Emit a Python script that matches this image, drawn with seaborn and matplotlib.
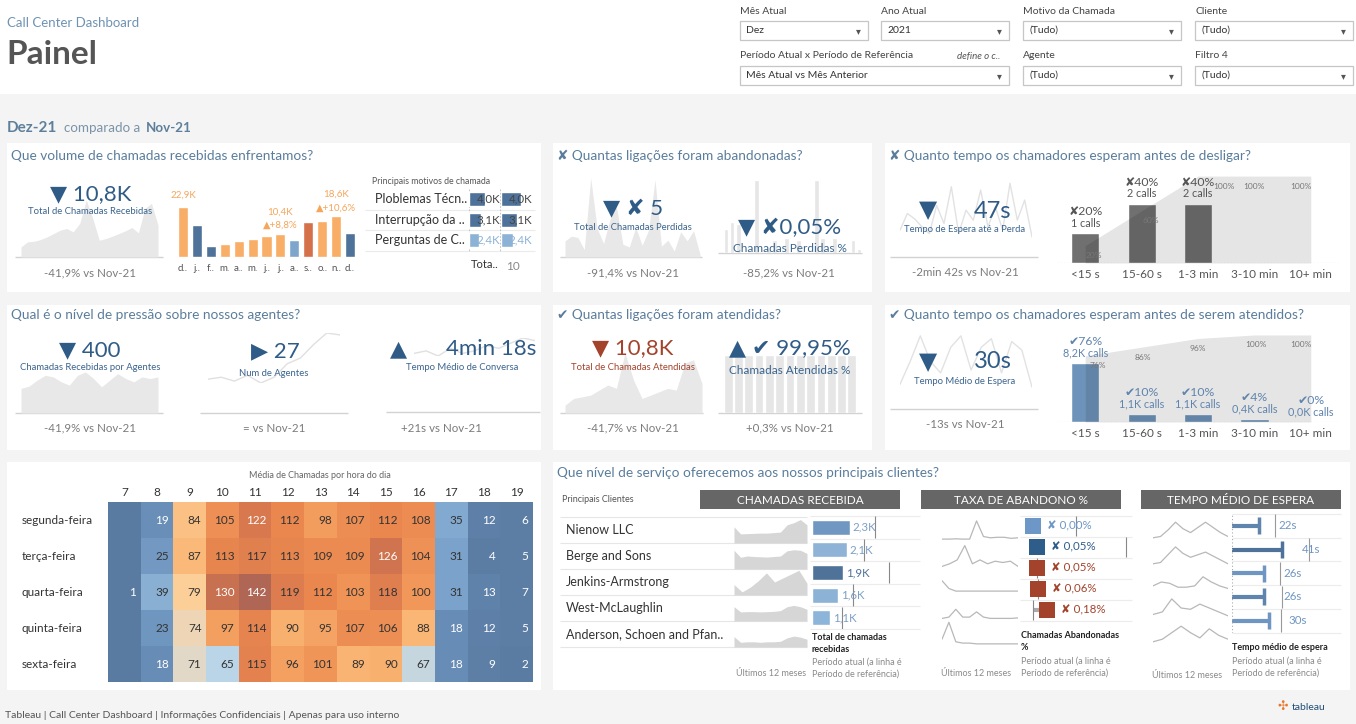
import numpy as np
import pandas as pd
import matplotlib
matplotlib.use('Agg')
import matplotlib.pyplot as plt
import seaborn as sns
from matplotlib.patches import Rectangle
from matplotlib.colors import LinearSegmentedColormap

sns.set_theme(style='white')
plt.rcParams['font.family'] = ['Lato', 'DejaVu Sans']

# ---------------- DATA ----------------
month_labels = ['d..', 'j..', 'f..', 'm.', 'a..', 'm.', 'j..', 'j..', 'a..', 's..', 'o..', 'n..', 'd..']
month_calls_k = [22.9, 14.5, 4.9, 5.8, 7.3, 8.1, 9.6, 10.4, 7.6, 16.0, 16.5, 18.6, 10.8]
month_colors = ['#f8ae66', '#4e7299', '#4e7299', '#f8ae66', '#f8ae66', '#f8ae66', '#f8ae66',
                '#f8ae66', '#7ea6cd', '#d4714b', '#f8ae66', '#f8ae66', '#4e7299']

reason_labels = ['Ploblemas Técn..', 'Interrupção da ..', 'Perguntas de C..']
reason_calls_k = [4.0, 3.1, 2.4]
reason_text = ['4,0K', '3,1K', '2,4K']
reason_colors = ['#4e7299', '#4e7299', '#8cb2d6']

calls_spark = [30, 45, 47, 52, 60, 70, 80, 85, 75, 100, 170, 115, 50, 55, 62, 70, 78, 88, 72, 145, 160, 95]
lost_spark = [48, 62, 58, 22, 235, 85, 40, 112, 150, 38, 30, 88, 35, 80, 230, 32, 50, 18, 75, 48, 78, 8]
lost_pct_spark = [0.33, 0.43, 0.40, 0.02, 0.0, 1.0, 0.0, 0.05, 0.18, 0.0, 0.21, 0.0,
                  0.18, 0.0, 0.02, 1.0, 0.20, 0.0, 0.20, 0.0, 0.0, 0.18, 0.05]
wait_lost_spark = [0.25, 0.5, 0.42, 0.3, 0.2, 0.62, 0.35, 0.9, 0.2, 0.55, 0.4, 0.85, 0.3, 0.6, 0.25, 0.95, 0.4, 0.7, 0.15]
agent_calls_spark = [75, 82, 100, 115, 110, 95, 85, 115, 125, 105, 80, 100, 120, 105, 95, 110, 105, 110]
agents_spark = [20, 20.5, 19.5, 21, 19, 20.5, 24, 25.5, 29, 32, 31.5]
talk_spark = [4.0, 4.05, 3.95, 4.1, 4.0, 4.05, 4.15, 4.1, 4.2, 4.3, 4.25]
answered_spark = [23, 43, 48, 53, 68, 83, 73, 178, 98, 43, 53, 63, 73, 68, 148, 158, 88]
answered_pct_spark = [99.6, 99.5, 99.5, 99.6, 99.4, 99.5, 99.7, 99.5, 99.6, 99.5, 99.3, 99.5, 99.95]
wait_ans_spark = [0.1, 0.5, 0.95, 0.5, 0.3, 0.75, 0.95, 0.35, 0.75, 0.9, 0.3, 0.85, 0.7, 0.05]

wait_buckets = ['<15 s', '15-60 s', '1-3 min', '3-10 min', '10+ min']
lost_calls_bucket = [1, 2, 2, 0, 0]
lost_share_text = ['✘20%', '✘40%', '✘40%', '', '']
lost_calls_text = ['1 calls', '2 calls', '2 calls', '', '']
lost_cum_pct = [20, 60, 100, 100, 100]
ans_calls_bucket_k = [8.2, 1.1, 1.1, 0.4, 0.0]
ans_share_text = ['✔76%', '✔10%', '✔10%', '✔4%', '✔0%']
ans_calls_text = ['8,2K calls', '1,1K calls', '1,1K calls', '0,4K calls', '0,0K calls']
ans_cum_pct = [76, 86, 96, 100, 100]

hours = [7, 8, 9, 10, 11, 12, 13, 14, 15, 16, 17, 18, 19]
weekdays = ['segunda-feira', 'terça-feira', 'quarta-feira', 'quinta-feira', 'sexta-feira']
heat_seg = [0, 19, 84, 105, 122, 112, 98, 107, 112, 108, 35, 12, 6]
heat_ter = [0, 25, 87, 113, 117, 113, 109, 109, 126, 104, 31, 4, 5]
heat_qua = [1, 39, 79, 130, 142, 119, 112, 103, 118, 100, 31, 13, 7]
heat_qui = [0, 23, 74, 97, 114, 90, 95, 107, 106, 88, 18, 12, 5]
heat_sex = [0, 18, 71, 65, 115, 96, 101, 89, 90, 67, 18, 9, 2]

clients = ['Nienow LLC', 'Berge and Sons', 'Jenkins-Armstrong', 'West-McLaughlin', 'Anderson, Schoen and Pfan..']
client_calls_k = [2.3, 2.1, 1.9, 1.6, 1.1]
client_calls_ref_k = [3.8, 3.15, 4.67, 2.5, 1.8]
client_calls_text = ['2,3K', '2,1K', '1,9K', '1,6K', '1,1K']
client_calls_colors = ['#7097c2', '#8fb3d6', '#4f7299', '#8cb2d6', '#8db4d9']
client_calls_txtcol = ['#7c9fc4', '#7c9fc4', '#4f7299', '#7c9fc4', '#7c9fc4']
client_aband_pct = [0.00, 0.05, 0.05, 0.06, 0.18]
client_aband_ref = [0.54, 1.16, 0.05, 0.06, 0.0]
client_aband_text = ['✘ 0,00%', '✘ 0,05%', '✘ 0,05%', '✘ 0,06%', '✘ 0,18%']
client_aband_colors = ['#6d97c7', '#2f5d8a', '#a3432b', '#a3432b', '#a3432b']
client_wait_s = [22, 41, 26, 26, 30]
client_wait_ref = [35, 63, 39, 41, 40]
client_wait_text = ['22s', '41s', '26s', '26s', '30s']
client_wait_colors = ['#5f84ad', '#4e7299', '#6f96c2', '#5f84ad', '#6f96c2']
client_calls_spark = [
    [0.62, 0.35, 0.36, 0.37, 0.38, 0.38, 0.40, 0.42, 0.70, 0.78, 0.90, 0.70],
    [0.72, 0.45, 0.50, 0.48, 0.47, 0.46, 0.48, 0.50, 0.70, 0.74, 0.72, 0.60],
    [0.40, 0.12, 0.30, 0.55, 0.85, 0.50, 0.65, 0.80, 0.95, 0.45],
    [0.55, 0.35, 0.36, 0.36, 0.35, 0.36, 0.37, 0.40, 0.55, 0.60, 0.55, 0.45],
    [0.40, 0.18, 0.20, 0.20, 0.18, 0.20, 0.20, 0.22, 0.35, 0.42, 0.38, 0.30]]
client_aband_spark = [
    [0.15, 0.15, 0.16, 0.15, 0.15, 0.85, 0.25, 0.2, 0.22, 0.22, 0.18, 0.2],
    [0.10, 0.20, 0.35, 0.90, 0.20, 0.35, 0.20, 0.30, 0.25, 0.30, 0.10],
    [0.55, 0.25, 0.15, 0.15, 0.15, 0.15, 0.15, 0.15, 0.15, 0.15, 0.15, 0.15],
    [0.10, 0.15, 0.45, 0.15, 0.15, 0.35, 0.15, 0.10, 0.10, 0.10, 0.10, 0.12],
    [0.30, 0.95, 0.20, 0.15, 0.15, 0.12, 0.12, 0.12, 0.12, 0.12, 0.12, 0.12]]
client_wait_spark = [
    [0.20, 0.25, 0.50, 0.80, 0.55, 0.40, 0.60, 0.80, 0.60, 0.40, 0.25],
    [0.20, 0.25, 0.55, 0.85, 0.60, 0.45, 0.55, 0.65, 0.50, 0.35, 0.20],
    [0.35, 0.50, 0.45, 0.30, 0.30, 0.35, 0.70, 0.50, 0.35, 0.25],
    [0.25, 0.35, 0.85, 0.50, 0.45, 0.65, 0.50, 0.35, 0.20],
    [0.20, 0.30, 0.55, 0.80, 0.55, 0.35, 0.70, 0.45, 0.30]]

filter_labels = ['Mês Atual', 'Ano Atual', 'Motivo da Chamada', 'Cliente',
                 'Período Atual x Período de Referência', 'Agente', 'Filtro 4']
filter_values = ['Dez', '2021', '(Tudo)', '(Tudo)', 'Mês Atual vs Mês Anterior', '(Tudo)', '(Tudo)']

# ---------------- STYLE ----------------
W, H = 1356, 724
TITLE = '#5a7d9c'
KPI = '#2f5b87'
RUST = '#a3432b'
GRAYTXT = '#7b7b7b'
DARK = '#444444'
SPARK = '#e8e8e8'

fig = plt.figure(figsize=(W / 100, H / 100), dpi=100)
bg = fig.add_axes([0, 0, 1, 1])
bg.set_xlim(0, W)
bg.set_ylim(H, 0)
bg.axis('off')
bg.set_zorder(-5)
fg = fig.add_axes([0, 0, 1, 1])
fg.set_xlim(0, W)
fg.set_ylim(H, 0)
fg.axis('off')
fg.set_facecolor('none')
fg.set_zorder(20)


def ax_at(x0, y0, x1, y1):
    a = fig.add_axes([x0 / W, 1 - y1 / H, (x1 - x0) / W, (y1 - y0) / H])
    a.set_facecolor('none')
    return a


def T(x, y, s, size=8, color=DARK, ha='left', va='center', weight='normal', **kw):
    return fg.text(x, y, s, fontsize=size, color=color, ha=ha, va=va, fontweight=weight, **kw)


def hline(x0, x1, y, color='#d2d2d2', lw=1.0, ls='-'):
    bg.plot([x0, x1], [y, y], color=color, lw=lw, ls=ls, solid_capstyle='butt')


def spark_area(box, vals, color=SPARK):
    a = ax_at(*box)
    idx = np.arange(len(vals))
    a.fill_between(idx, vals, color=color, lw=0)
    a.set_xlim(0, len(vals) - 1)
    a.set_ylim(0, max(vals))
    a.axis('off')
    return a


def spark_line(box, vals, color='#dddddd', lw=1.0, ylim=None):
    a = ax_at(*box)
    sns.lineplot(x=np.arange(len(vals)), y=vals, ax=a, color=color, lw=lw)
    a.set_xlim(0, len(vals) - 1)
    a.set_ylim(ylim if ylim else (min(vals), max(vals)))
    a.axis('off')
    return a


def spark_bars(box, vals, color, width=0.8, ylim=None):
    a = ax_at(*box)
    sns.barplot(x=np.arange(len(vals)), y=vals, color=color, width=width, saturation=1, ax=a)
    a.set_ylim(ylim if ylim else (0, max(vals)))
    a.axis('off')
    return a


# ---------------- BACKGROUND ----------------
bg.add_patch(Rectangle((0, 0), W, H, fc='#f4f4f4', ec='none', zorder=0))
bg.add_patch(Rectangle((0, 0), W, 94, fc='white', ec='none', zorder=0))
panels = [(7, 143, 541, 292), (553, 143, 872, 292), (885, 143, 1350, 292),
          (7, 305, 541, 450), (553, 305, 872, 450), (885, 305, 1350, 450),
          (7, 462, 541, 690), (553, 462, 1350, 690)]
for x0, y0, x1, y1 in panels:
    bg.add_patch(Rectangle((x0, y0), x1 - x0, y1 - y0, fc='white', ec='none', zorder=0.5))

# ---------------- HEADER ----------------
T(7, 23, 'Call Center Dashboard', 9.5, '#6f93b3')
T(6, 55, 'Painel', 24, '#555555', weight='bold')
filter_boxes = [(740, 868, 0), (881, 1009, 0), (1023, 1181, 0), (1195, 1353, 0),
                (740, 1009, 1), (1023, 1181, 1), (1195, 1353, 1)]
for (x0, x1, r), lab, val in zip(filter_boxes, filter_labels, filter_values):
    ly = 11 if r == 0 else 56
    by = 21 if r == 0 else 66
    T(x0, ly, lab, 7.5, '#444444')
    bg.add_patch(Rectangle((x0, by), x1 - x0, 19, fc='white', ec='#c6c6c6', lw=0.9, zorder=1))
    T(x0 + 6, by + 9.5, val, 7.5, '#333333')
    T(x1 - 10, by + 10, '▾', 7, '#555555', ha='center', family='DejaVu Sans')
T(957, 56, 'define o c..', 7, '#555555', style='italic')

T(7, 128, 'Dez-21', 11, '#5e7f9c', weight='bold')
T(64, 128, 'comparado a', 9.6, '#7a93a8')
T(146, 128, 'Nov-21', 9.6, '#5e7f9c', weight='bold')

# ---------------- PANEL TITLES ----------------
T(11, 156, 'Que volume de chamadas recebidas enfrentamos?', 9.8, TITLE)
T(557, 156, '✘ Quantas ligações foram abandonadas?', 9.8, TITLE)
T(889, 156, '✘ Quanto tempo os chamadores esperam antes de desligar?', 9.8, TITLE)
T(11, 315, 'Qual é o nível de pressão sobre nossos agentes?', 9.8, TITLE)
T(557, 315, '✔ Quantas ligações foram atendidas?', 9.8, TITLE)
T(889, 315, '✔ Quanto tempo os chamadores esperam antes de serem atendidos?', 9.8, TITLE)
T(557, 473, 'Que nível de serviço oferecemos aos nossos principais clientes?', 9.8, TITLE)

# ---------------- PANEL 1 ----------------
spark_area((21, 200, 158, 257), calls_spark)
hline(15, 163, 257)
T(91, 194, '▼ 10,8K', 16, KPI, ha='center')
T(90, 212, 'Total de Chamadas Recebidas', 6.8, '#3b648e', ha='center')
T(90, 273, '-41,9% vs Nov-21', 8.3, GRAYTXT, ha='center')

a = ax_at(176, 185, 357, 257)
dfm = pd.DataFrame({'m': [f'm{i}' for i in range(13)], 'calls': month_calls_k})
sns.barplot(data=dfm, x='m', y='calls', hue='m', palette=dict(zip(dfm['m'], month_colors)),
            legend=False, width=0.72, saturation=1, ax=a)
a.set_ylim(0, 33)
a.set_xlim(-0.5, 12.5)
a.set_xticks(range(13))
a.set_xticklabels(month_labels, fontsize=7, color='#555555')
a.tick_params(axis='x', length=0, pad=5)
a.set_yticks([])
a.set_xlabel('')
a.set_ylabel('')
for s in a.spines.values():
    s.set_visible(False)
a.axhline(0, color='#aaaaaa', lw=0.8, ls=(0, (1, 2)))
a.annotate('22,9K', (0, month_calls_k[0]), xytext=(0, 5), textcoords='offset points',
           ha='center', va='bottom', fontsize=7, color='#f5a65b')
for i, (v1, v2) in [(7, ('10,4K', '▲+8,8%')), (11, ('18,6K', '▲+10,6%'))]:
    a.annotate(v2, (i, month_calls_k[i]), xytext=(0, 3), textcoords='offset points',
               ha='center', va='bottom', fontsize=7, color='#f5a65b')
    a.annotate(v1, (i, month_calls_k[i]), xytext=(0, 13), textcoords='offset points',
               ha='center', va='bottom', fontsize=7, color='#f5a65b')

T(372, 182, 'Principais motivos de chamada', 6.3, '#555555')
for i, lab in enumerate(reason_labels):
    T(375, 199 + i * 20.5, lab, 9, '#333333')
for yy in [209.5, 230, 250.5]:
    hline(365, 535, yy, '#ebebeb', 0.8)
for xx in [469, 500]:
    bg.plot([xx, xx], [189, 251], color='#bbbbbb', lw=0.6, ls=(0, (2, 2)))
for (x0, x1, xmax) in [(469, 500, 7.75), (501, 532, 6.2)]:
    a = ax_at(x0, 189, x1, 250.5)
    sns.barplot(x=reason_calls_k, y=reason_labels, orient='h', hue=reason_labels,
                palette=dict(zip(reason_labels, reason_colors)), legend=False,
                width=0.7, saturation=1, ax=a)
    a.set_xlim(0, xmax)
    a.set_ylim(2.5, -0.5)
    a.axis('off')
    for i, txt in enumerate(reason_text):
        a.text(xmax, i, txt, ha='right', va='center', fontsize=8.3,
               color='#8cb2d6' if i == 2 else '#444444')
T(485, 265, 'Tota..', 8, '#333333', ha='center')
T(513, 266, '10', 8.5, '#888888', ha='center')

# ---------------- PANEL 2 ----------------
spark_area((565, 178, 700, 257), lost_spark)
hline(560, 702, 257)
T(633, 208, '▼ ✘ 5', 16, KPI, ha='center')
T(633, 228, 'Total de Chamadas Perdidas', 6.8, '#3b648e', ha='center')
T(633, 273, '-91,4% vs Nov-21', 8.3, GRAYTXT, ha='center')
spark_bars((723, 180, 862, 253), lost_pct_spark, '#e6e6e6', width=0.8)
hline(718, 862, 253)
T(790, 228, '▼ ✘0,05%', 16, KPI, ha='center')
T(790, 249, 'Chamadas Perdidas %', 8.5, '#3b648e', ha='center')
T(789, 273, '-85,2% vs Nov-21', 8.3, GRAYTXT, ha='center')

# ---------------- PANEL 3 ----------------
spark_line((900, 180, 1032, 247), wait_lost_spark, '#e2e2e2', 1.0, (0, 1))
hline(890, 1038, 257)
T(928, 211, '▼', 17, KPI, ha='center')
T(993, 211, '47s', 17, KPI, ha='center')
T(965, 230, 'Tempo de Espera até a Perda', 6.8, '#3b648e', ha='center')
T(965, 273, '-2min 42s vs Nov-21', 8.3, GRAYTXT, ha='center')


def bucket_chart(box, calls, calls_max, cum, cum_max, bar_color, share_txt, calls_txt,
                 txt_color, cum_dx, cum_dy):
    a = ax_at(*box)
    sns.barplot(x=wait_buckets, y=calls, color=bar_color, width=0.5, saturation=1, ax=a)
    a.set_ylim(0, calls_max)
    a.set_xlim(-0.5, 4.5)
    a.set_yticks([])
    a.set_xlabel('')
    a.set_ylabel('')
    a.tick_params(axis='x', length=0, pad=4, labelsize=8.5, labelcolor='#555555')
    for s in a.spines.values():
        s.set_visible(False)
    a.axhline(0, color='#999999', lw=0.8, ls=(0, (1, 2)))
    a2 = a.twinx()
    a2.fill_between(range(5), cum, color='black', alpha=0.1, lw=0)
    a2.set_ylim(0, cum_max)
    a2.set_xlim(-0.5, 4.5)
    a2.axis('off')
    for i, v in enumerate(cum):
        a2.annotate(f'{v}%', (i, v), xytext=(cum_dx[i], cum_dy[i]), textcoords='offset points',
                    ha='center', va='center', fontsize=6, color='#777777')
    for i, (st, ct) in enumerate(zip(share_txt, calls_txt)):
        if st:
            a2.annotate(st, (i, calls[i] / calls_max * cum_max), xytext=(0, 15.5),
                        textcoords='offset points', ha='center', va='center', fontsize=8.8,
                        color=txt_color)
            a2.annotate(ct, (i, calls[i] / calls_max * cum_max), xytext=(0, 7.2),
                        textcoords='offset points', ha='center', va='center', fontsize=7.8,
                        color=txt_color)
    return a


bucket_chart((1057, 170, 1339, 263), lost_calls_bucket, 3.15, lost_cum_pct, 107, '#707070',
             lost_share_text, lost_calls_text, '#555555', [6, 6.5, 19, 0, -7],
             [-7.2, -7.2, -7.2, -7.2, -7.2])

# ---------------- PANEL 4 ----------------
spark_area((21, 372, 158, 413), agent_calls_spark)
hline(15, 163, 413)
T(90, 350, '▼ 400', 16, KPI, ha='center')
T(90, 368, 'Chamadas Recebidas por Agentes', 6.8, '#3b648e', ha='center')
T(90, 428, '-41,9% vs Nov-21', 8.3, GRAYTXT, ha='center')
spark_line((208, 333, 340, 383), agents_spark, '#e0e0e0', 1.0)
hline(200, 348, 413)
T(275, 351, '▶ 27', 16, KPI, ha='center')
T(274, 374, 'Num de Agentes', 6.8, '#3b648e', ha='center')
T(274, 428, '= vs Nov-21', 8.3, GRAYTXT, ha='center')
spark_line((414, 338, 535, 356), talk_spark, '#e0e0e0', 1.0)
hline(386, 540, 412)
T(398, 349, '▲', 16, KPI, ha='center')
T(491, 349, '4min 18s', 16, KPI, ha='center')
T(462, 368, 'Tempo Médio de Conversa', 6.8, '#3b648e', ha='center')
T(441, 428, '+21s vs Nov-21', 8.3, GRAYTXT, ha='center')

# ---------------- PANEL 5 ----------------
spark_area((565, 353, 702, 413), answered_spark)
hline(560, 703, 413)
T(633, 348, '▼ 10,8K', 16, RUST, ha='center')
T(633, 368, 'Total de Chamadas Atendidas', 6.8, RUST, ha='center')
T(633, 428, '-41,7% vs Nov-21', 8.3, GRAYTXT, ha='center')
spark_bars((723, 355, 857, 413), answered_pct_spark, '#e6e6e6', width=0.85, ylim=(0, 100))
hline(718, 862, 413)
T(790, 348, '▲ ✔ 99,95%', 16, KPI, ha='center')
T(790, 370, 'Chamadas Atendidas %', 8.5, '#3b648e', ha='center')
T(790, 428, '+0,3% vs Nov-21', 8.3, GRAYTXT, ha='center')

# ---------------- PANEL 6 ----------------
spark_line((900, 333, 1032, 390), wait_ans_spark, '#e2e2e2', 1.0, (0, 1))
hline(890, 1038, 409)
T(928, 363, '▼', 17, KPI, ha='center')
T(993, 362, '30s', 17, KPI, ha='center')
T(965, 381, 'Tempo Médio de Espera', 6.8, '#3b648e', ha='center')
T(965, 425, '-13s vs Nov-21', 8.3, GRAYTXT, ha='center')
bucket_chart((1057, 330, 1339, 422), ans_calls_bucket_k, 12.8, ans_cum_pct, 105.7, '#6e93ba',
             ans_share_text, ans_calls_text, '#5f84ad', [9, 1, 0, 1, -7],
             [-7.2, -7.2, -7.2, -7.2, -7.2])

# ---------------- HEATMAP ----------------
T(320, 475, 'Média de Chamadas por hora do dia', 6.5, '#666666', ha='center')
heat = pd.DataFrame([heat_seg, heat_ter, heat_qua, heat_qui, heat_sex], index=weekdays, columns=hours)
cmap = LinearSegmentedColormap.from_list('ob', [
    (0.0, '#5a7ba1'), (12 / 142, '#5e80a8'), (20 / 142, '#6b91bb'), (35 / 142, '#82a9d0'),
    (65 / 142, '#b9d5e8'), (70 / 142, '#ddd9cf'), (78 / 142, '#fdd29c'), (88 / 142, '#fab674'),
    (100 / 142, '#f19759'), (112 / 142, '#e9874f'), (122 / 142, '#d8784e'), (1.0, '#b06654')])
a = ax_at(108, 502, 533, 682)
sns.heatmap(heat, ax=a, cmap=cmap, vmin=0, vmax=142, cbar=False, linewidths=0)
a.xaxis.tick_top()
a.set_xticklabels([str(h) for h in hours], fontsize=8.5, color='#333333', rotation=0)
a.set_yticklabels(weekdays, fontsize=8.5, color='#333333', rotation=0, ha='left')
a.tick_params(axis='y', length=0, pad=62)
a.tick_params(axis='x', length=0, pad=3)
a.set_xlabel('')
a.set_ylabel('')
for i in range(5):
    for j in range(13):
        v = heat.iloc[i, j]
        if v > 0:
            a.text(j + 0.86, i + 0.52, str(v), ha='right', va='center', fontsize=8.5,
                   color='white' if (v <= 20 or v >= 120) else '#333333')

# ---------------- CLIENTS ----------------
T(562, 499, 'Principais Clientes', 6.5, '#555555')
for (x0, x1, lab) in [(700, 900, 'CHAMADAS RECEBIDA'), (921, 1121, 'TAXA DE ABANDONO %'),
                      (1141, 1341, 'TEMPO MÉDIO DE ESPERA')]:
    bg.add_patch(Rectangle((x0, 490), x1 - x0, 19, fc='#666666', ec='none', zorder=1))
    T((x0 + x1) / 2, 500, lab, 8.5, 'white', ha='center')
for k in range(6):
    hline(560, 807, 517 + 26 * k, '#e6e6e6', 0.8)
for i, name in enumerate(clients):
    T(566, 530 + 26 * i, name, 9, '#333333')
    spark_area((734, 517 + 26 * i, 807, 543 + 26 * i), client_calls_spark[i], '#d6d6d6').set_ylim(0, 1)
    spark_line((942, 517 + 26 * i, 1018, 543 + 26 * i), client_aband_spark[i], '#b8b8b8', 0.9, (0, 1))
    spark_line((1153, 517 + 26 * i, 1228, 543 + 26 * i), client_wait_spark[i], '#b8b8b8', 0.9, (0, 1))

# calls bars
for k in range(6):
    hline(810, 920, 516 + 22.6 * k, '#ececec', 0.8)
a = ax_at(812, 516, 920, 629)
sns.barplot(x=client_calls_k, y=clients, orient='h', hue=clients,
            palette=dict(zip(clients, client_calls_colors)), legend=False, width=0.66, saturation=1, ax=a)
a.set_xlim(0, 6.55)
a.set_ylim(4.5, -0.5)
a.vlines(client_calls_ref_k, [i - 0.48 for i in range(5)], [i + 0.48 for i in range(5)],
         color='#888888', lw=0.8)
for i, (v, t, c) in enumerate(zip(client_calls_k, client_calls_text, client_calls_txtcol)):
    a.annotate(t, (v, i), xytext=(2, 0), textcoords='offset points', ha='left', va='center',
               fontsize=8.3, color=c)
a.axis('off')
T(812, 638, 'Total de chamadas', 6.5, '#222222', weight='bold')
T(812, 649, 'recebidas', 6.5, '#222222', weight='bold')
T(812, 662, 'Período atual (a linha é', 6.5, '#8a8a8a')
T(812, 674, 'Período de referência)', 6.5, '#8a8a8a')
T(736, 674, 'Últimos 12 meses', 6.5, '#8a8a8a')

# abandon squares
for k in range(6):
    hline(1020, 1132, 515.5 + 21 * k, '#ececec', 0.8)
a = ax_at(1020, 515.5, 1135, 620.5)
ypos = np.arange(5)
a.hlines(ypos, 0, client_aband_pct, color='#aaaaaa', lw=3)
a.vlines(client_aband_ref, ypos - 0.48, ypos + 0.48, color='#888888', lw=0.8)
sns.scatterplot(x=client_aband_pct, y=ypos, hue=clients, palette=dict(zip(clients, client_aband_colors)),
                marker='s', s=135, linewidth=0, legend=False, ax=a, zorder=3)
for i, (v, t, c) in enumerate(zip(client_aband_pct, client_aband_text, client_aband_colors)):
    a.annotate(t, (v, i), xytext=(10, 0), textcoords='offset points', ha='left', va='center',
               fontsize=8.3, color=c)
a.set_xlim(-0.1625, 1.275)
a.set_ylim(4.5, -0.5)
a.axis('off')
T(1021, 635, 'Chamadas Abandonadas', 6.5, '#222222', weight='bold')
T(1021, 647, '%', 6.5, '#222222', weight='bold')
T(1021, 661, 'Período atual (a linha é', 6.5, '#8a8a8a')
T(1021, 673, 'Período de referência)', 6.5, '#8a8a8a')
T(941, 674, 'Últimos 12 meses', 6.5, '#8a8a8a')

# wait bars
for k in range(6):
    hline(1232, 1341, 514 + 23.7 * k, '#ececec', 0.8)
a = ax_at(1232, 514, 1345, 632.5)
a.hlines(ypos, 0, client_wait_s, colors=client_wait_colors, lw=3)
a.vlines(client_wait_s, ypos - 0.36, ypos + 0.36, colors=client_wait_colors, lw=2.5)
a.vlines(client_wait_ref, ypos - 0.48, ypos + 0.48, color='#999999', lw=0.8)
a.axvline(0, color='#aaaaaa', lw=0.8, ls=(0, (1, 2)))
for i, (v, t) in enumerate(zip(client_wait_s, client_wait_text)):
    a.annotate(t, (v, i), xytext=(14, 0), textcoords='offset points', ha='left', va='center',
               fontsize=8.3, color='#6f96c2')
a.set_xlim(0, 92.6)
a.set_ylim(4.5, -0.5)
a.axis('off')
T(1232, 647, 'Tempo médio de espera', 6.5, '#222222', weight='bold')
T(1232, 661, 'Período atual (a linha é', 6.5, '#8a8a8a')
T(1232, 673, 'Período de referência)', 6.5, '#8a8a8a')
T(1152, 675, 'Últimos 12 meses', 6.5, '#8a8a8a')

# ---------------- FOOTER ----------------
T(5, 715, 'Tableau | Call Center Dashboard | Informações Confidenciais | Apenas para uso interno', 7.5, '#555555')
T(1283, 707, '✣', 9, '#e8762b', ha='center', family='DejaVu Sans')
T(1292, 707, 'tableau', 7.5, '#1f4e79')

fig.savefig('out.png', dpi=100)
